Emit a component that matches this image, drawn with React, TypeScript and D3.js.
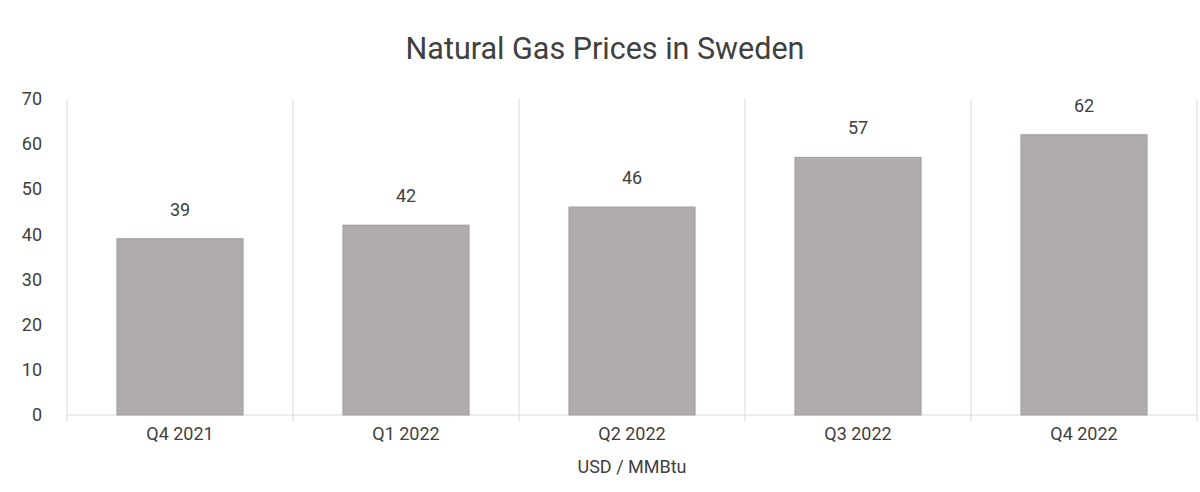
import React from 'react';
import * as d3 from 'd3';

const categories = ['Q4 2021', 'Q1 2022', 'Q2 2022', 'Q3 2022', 'Q4 2022'];
const prices = [39, 42, 46, 57, 62];
const yTicks = [0, 10, 20, 30, 40, 50, 60, 70];

const W = 1200, H = 492;
const margin = { left: 67, right: 3, top: 98.6, bottom: 77 };

const App = () => {
  const x = d3.scaleBand<string>()
    .domain(categories)
    .range([margin.left, W - margin.right])
    .paddingInner(0.442)
    .paddingOuter(0.221);
  const y = d3.scaleLinear().domain([0, 70]).range([H - margin.bottom, margin.top]);
  const step = x.step();
  const bounds = categories.map(c => (x(c) as number) - (step - x.bandwidth()) / 2);
  bounds.push(W - margin.right);
  const font = 'Roboto, "Noto Sans", sans-serif';
  const txt = '#404040';

  return (
    <svg width={W} height={H} style={{ position: 'absolute', left: 0, top: 0, fontFamily: font }}>
      <rect width={W} height={H} fill="#fff" />
      <text x={605} y={59} textAnchor="middle" fontSize={30.5} fill={txt}>Natural Gas Prices in Sweden</text>
      {bounds.map((b, i) => (
        <line key={i} x1={b} x2={b} y1={y(70)} y2={y(0) + 7} stroke="#d9d9d9" strokeWidth={1} />
      ))}
      <line x1={margin.left} x2={W - margin.right} y1={y(0)} y2={y(0)} stroke="#d9d9d9" />
      {yTicks.map(t => (
        <text key={t} x={42} y={y(t)} dy="0.35em" textAnchor="end" fontSize={18} fill={txt}>{t}</text>
      ))}
      {categories.map((c, i) => (
        <g key={c}>
          <rect x={x(c)} y={y(prices[i])} width={x.bandwidth()} height={y(0) - y(prices[i])}
            fill="#b0acab" stroke="#a19d9c" strokeWidth={1} />
          <text x={(x(c) as number) + x.bandwidth() / 2} y={y(prices[i]) - 23} textAnchor="middle" fontSize={18} fill={txt}>{prices[i]}</text>
          <text x={(x(c) as number) + x.bandwidth() / 2} y={y(0) + 25} textAnchor="middle" fontSize={18} fill={txt}>{c}</text>
        </g>
      ))}
      <text x={(margin.left + W - margin.right) / 2} y={473} textAnchor="middle" fontSize={18} fill={txt}>USD / MMBtu</text>
    </svg>
  );
};

export default App;
